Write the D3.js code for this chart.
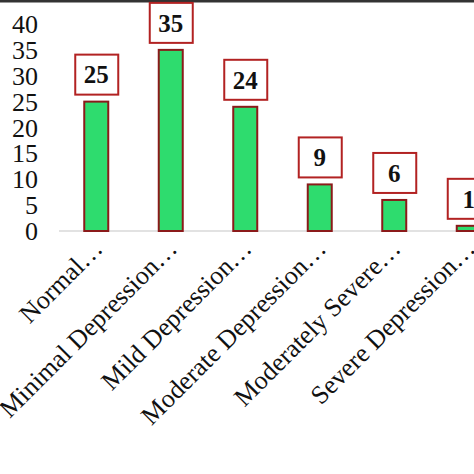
<!DOCTYPE html><html><head><script src="https://d3js.org/d3.v7.min.js"></script>
<style>body{margin:0;background:#fff}</style></head><body><svg id="c" width="474" height="474"></svg>
<script>
const categories=["Normal…","Minimal Depression…","Mild Depression…","Moderate Depression…","Moderately Severe…","Severe Depression…"];
const values=[25,35,24,9,6,1];
const yTicks=[0,5,10,15,20,25,30,35,40];
const svg=d3.select("#c");
const font="'Liberation Serif','Times New Roman',serif";
svg.append("rect").attr("x",0).attr("y",0).attr("width",474).attr("height",2.5).attr("fill","#333");
const x=d3.scaleBand().domain(categories).range([59,506]).paddingInner(0);
const y=d3.scaleLinear().domain([0,40]).range([231,24]);
svg.append("line").attr("x1",59).attr("x2",474).attr("y1",y(0)).attr("y2",y(0)).attr("stroke","#d9d9d9").attr("stroke-width",1.5);
svg.selectAll(".yt").data(yTicks).join("text").attr("x",38).attr("y",d=>y(d)).attr("dy","0.35em")
 .attr("text-anchor","end").attr("font-family",font).attr("font-size",26).attr("fill","#111").text(d=>d);
const bw=24;
svg.selectAll(".bar").data(values).join("rect")
 .attr("x",(d,i)=>x(categories[i])+x.bandwidth()/2-bw/2).attr("y",d=>y(d)).attr("width",bw).attr("height",d=>y(0)-y(d))
 .attr("fill","#2edc6e").attr("stroke","#8b1a1a").attr("stroke-width",2);
const g=svg.selectAll(".lab").data(values).join("g")
 .attr("transform",(d,i)=>`translate(${x(categories[i])+x.bandwidth()/2},${y(d)-27})`);
g.append("rect").attr("x",-21).attr("y",-20).attr("width",43).attr("height",40).attr("fill","#fff").attr("stroke","#b22222").attr("stroke-width",2);
g.append("text").attr("text-anchor","middle").attr("dy","0.35em").attr("font-family",font).attr("font-weight","bold").attr("font-size",25).attr("fill","#111").text(d=>d);
svg.selectAll(".xl").data(categories).join("text")
 .attr("transform",d=>`translate(${x(d)+x.bandwidth()/2+8},${250}) rotate(-45)`)
 .attr("text-anchor","end").attr("font-family",font).attr("font-size",26).attr("fill","#111").text(d=>d);
</script></body></html>
